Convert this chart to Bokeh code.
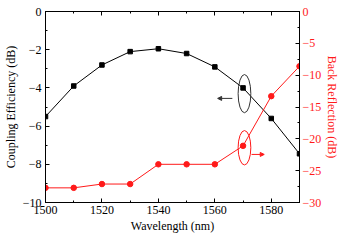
from bokeh.plotting import figure
from bokeh.models import (Range1d, LinearAxis, SingleIntervalTicker, Arrow, NormalHead,
                          ColumnDataSource, CustomJSTickFormatter)
from bokeh.embed import file_html
from bokeh.resources import INLINE

wavelength = [1500, 1510, 1520, 1530, 1540, 1550, 1560, 1570, 1580, 1590]
coupling = [-5.5, -3.9, -2.8, -2.1, -1.95, -2.2, -2.9, -4.0, -5.6, -7.45]
back_refl = [-27.7, -27.7, -27.1, -27.1, -24.0, -24.0, -24.0, -21.1, -13.3, -8.6]

FONT = "Liberation Serif"
RED = "#ff1a1a"

p = figure(width=342, height=240, output_backend="svg", toolbar_location=None,
           x_range=Range1d(1500, 1590), y_range=Range1d(-10, 0),
           min_border_left=43, min_border_right=41, min_border_top=11, min_border_bottom=38)
p.extra_y_ranges = {"right": Range1d(-30, 0)}
p.grid.visible = False
p.outline_line_color = "black"
p.outline_line_width = 1
p.background_fill_color = "white"
p.border_fill_color = "white"

def style(ax, color="black", label_color="black"):
    ax.axis_line_color = color
    ax.major_tick_line_color = color
    ax.minor_tick_line_color = color
    ax.major_tick_in = 4
    ax.major_tick_out = 0
    ax.minor_tick_in = 2
    ax.minor_tick_out = 0
    ax.major_label_text_font = FONT
    ax.major_label_text_font_size = "12px"
    ax.major_label_text_color = label_color
    ax.axis_label_text_font = FONT
    ax.axis_label_text_font_size = "12px"
    ax.axis_label_text_font_style = "normal"
    ax.axis_label_text_color = label_color
    ax.major_label_standoff = 4
    ax.axis_label_standoff = 2

xa = p.xaxis[0]
xa.ticker = SingleIntervalTicker(interval=20, num_minor_ticks=2)
xa.axis_label = "Wavelength (nm)"
style(xa)
xa.major_label_standoff = 3

ya = p.yaxis[0]
ya.ticker = SingleIntervalTicker(interval=2, num_minor_ticks=2)
ya.axis_label = "Coupling Efficiency (dB)"
style(ya)

ry = LinearAxis(y_range_name="right", axis_label="Back Reflection (dB)",
                ticker=SingleIntervalTicker(interval=5, num_minor_ticks=2))
style(ry, color="black", label_color=RED)
ry.major_label_standoff = 3
ry.axis_label_standoff = 1
p.add_layout(ry, "right")

top = LinearAxis(ticker=SingleIntervalTicker(interval=20, num_minor_ticks=2),
                 formatter=CustomJSTickFormatter(code="return ''"))
style(top)
top.major_label_standoff = 0
p.add_layout(top, "above")

src = ColumnDataSource(dict(x=wavelength, c=coupling, r=back_refl))
p.line("x", "c", source=src, color="black", line_width=1)
p.scatter("x", "c", source=src, marker="square", size=4.5, color="black")
p.line("x", "r", source=src, color=RED, line_width=1, y_range_name="right")
p.scatter("x", "r", source=src, marker="circle", size=5.5, color=RED, y_range_name="right")

# annotations: ellipses around the 1570 points and arrows to the axes
ann_x = [1570.5, 1570.5]
ann_y_black = [-4.3]
ann_y_red = [-21.4]
p.ellipse(x=[ann_x[0]], y=ann_y_black, width=4.5, height=2.0, fill_alpha=0,
          line_color="#333333", line_width=1)
p.ellipse(x=[ann_x[1]], y=ann_y_red, width=4.5, height=5.4, fill_alpha=0,
          line_color=RED, line_width=1, y_range_name="right")

arrow_black = dict(x_start=1566.2, x_end=1561.0, y=-4.55)
arrow_red = dict(x_start=1573.0, x_end=1577.5, y=-22.45)
p.add_layout(Arrow(end=NormalHead(size=4, fill_color="#333333", line_color="#333333"),
                   x_start=arrow_black["x_start"], y_start=arrow_black["y"],
                   x_end=arrow_black["x_end"], y_end=arrow_black["y"],
                   line_color="#333333", line_width=1))
p.add_layout(Arrow(end=NormalHead(size=4, fill_color=RED, line_color=RED),
                   x_start=arrow_red["x_start"], y_start=arrow_red["y"],
                   x_end=arrow_red["x_end"], y_end=arrow_red["y"],
                   line_color=RED, line_width=1, y_range_name="right"))

open("out.html", "w").write(file_html(p, INLINE))
